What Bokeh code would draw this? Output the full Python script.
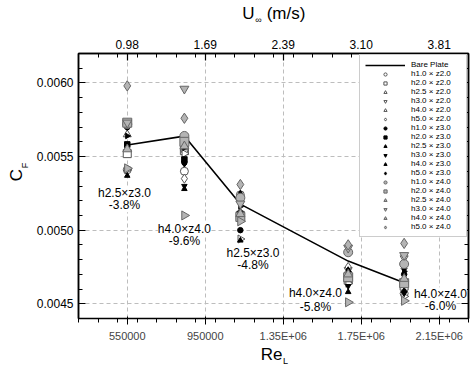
import math
from bokeh.plotting import figure
from bokeh.models import (LinearAxis, FixedTicker, Label, Legend, LegendItem,
                          NumeralTickFormatter, Range1d)
from bokeh.embed import file_html
from bokeh.resources import INLINE

# ---------------- data ----------------
re_l = [550000, 843000, 1130000, 1683000, 1970000]
re_ticks = [550000, 950000, 1350000, 1750000, 2150000]
re_tick_labels = ["550000", "950000", "1.35E+06", "1.75E+06", "2.15E+06"]
u_inf_labels = ["0.98", "1.69", "2.39", "3.10", "3.81"]
cf_ticks = [0.0045, 0.0050, 0.0055, 0.0060]

bare_plate = [0.005578, 0.005639, 0.005177, 0.004790, 0.004643]

h10_z20 = [0.00541, 0.00540, 0.00524, 0.00470, 0.00457]
h20_z20 = [0.00552, 0.00554, 0.00510, 0.00466, 0.00462]
h25_z20 = [0.00565, 0.00556, 0.00512, 0.00468, 0.00466]
h30_z20 = [0.00572, 0.00553, 0.00520, 0.00473, 0.00481]
h40_z20 = [0.00541, 0.00552, 0.00494, 0.00464, 0.00455]
h50_z20 = [0.00571, 0.00535, 0.00519, 0.00475, 0.00474]
h10_z30 = [0.00570, 0.00546, 0.00500, 0.00469, 0.00470]
h20_z30 = [0.00558, 0.00548, 0.00508, 0.00467, 0.00465]
h25_z30 = [0.00537, 0.00528, 0.00493, 0.00458, 0.00459]
h30_z30 = [0.00559, 0.00530, 0.00512, 0.00462, 0.00457]
h40_z30 = [0.00564, 0.00556, 0.00516, 0.00472, 0.00472]
h50_z30 = [0.00570, 0.00545, 0.00525, 0.00473, 0.00474]
h10_z40 = [0.00572, 0.00564, 0.00522, 0.00485, 0.00477]
h20_z40 = [0.00573, 0.00560, 0.00509, 0.00468, 0.00464]
h25_z40 = [0.00555, 0.00557, 0.00511, 0.00470, 0.00467]
h30_z40 = [0.00573, 0.00596, 0.00518, 0.00488, 0.00483]
h40_z40 = [0.00542, 0.00510, 0.00506, 0.00451, 0.00452]
h50_z40 = [0.00598, 0.00576, 0.00531, 0.00490, 0.00491]

# annotations: name, change, x (Re), y of line 1, y of line 2
ann_names = ["h2.5×z3.0", "h4.0×z4.0", "h2.5×z3.0", "h4.0×z4.0", "h4.0×z4.0"]
ann_pcts = ["-3.8%", "-9.6%", "-4.8%", "-5.8%", "-6.0%"]
ann_x = [536000, 843000, 1195000, 1515000, 2156000]
ann_y1 = [0.005253, 0.005009, 0.004842, 0.004570, 0.004565]
ann_y2 = [0.005169, 0.004927, 0.004763, 0.004480, 0.004487]

# ---------------- figure ----------------
X0, X1 = 300000, 2300000
Y0, Y1 = 0.0044, 0.0062
L, T, W, H = 78, 48, 390, 270
FONT = "Liberation Sans"

p = figure(width=474, height=377, x_range=Range1d(X0, X1), y_range=Range1d(Y0, Y1),
           output_backend="svg", toolbar_location=None,
           min_border_left=L, min_border_right=474 - L - W,
           min_border_top=T, min_border_bottom=377 - T - H,
           background_fill_color="white", border_fill_color="white")
p.outline_line_color = "black"
p.outline_line_width = 1.5

def px2x(px):
    return X0 + (px - L) / W * (X1 - X0)

def py2y(py):
    return Y1 - (py - T) / H * (Y1 - Y0)

x_minor = [v for v in range(300000, 2300001, 100000) if v not in re_ticks]
y_minor = [round(0.0044 + i * 0.0001, 5) for i in range(19)]
y_minor = [v for v in y_minor if all(abs(v - t) > 1e-9 for t in cf_ticks)]

xt = FixedTicker(ticks=re_ticks, minor_ticks=x_minor)
yt = FixedTicker(ticks=cf_ticks, minor_ticks=y_minor)

p.xaxis.ticker = xt
p.xaxis.major_label_overrides = {t: s for t, s in zip(re_ticks, re_tick_labels)}
p.yaxis.ticker = yt
p.yaxis.formatter = NumeralTickFormatter(format="0.0000")

top = LinearAxis(ticker=xt, major_label_overrides={t: s for t, s in zip(re_ticks, u_inf_labels)})
p.add_layout(top, "above")
right = LinearAxis(ticker=yt, major_label_overrides={t: "" for t in cf_ticks})
p.add_layout(right, "right")

for ax in [p.xaxis[0], p.yaxis[0], top, right]:
    ax.major_tick_in = 7
    ax.major_tick_out = 0
    ax.minor_tick_in = 4
    ax.minor_tick_out = 0
    ax.axis_line_color = "black"
    ax.axis_line_width = 1.5
    ax.major_tick_line_color = "black"
    ax.major_tick_line_width = 1.2
    ax.minor_tick_line_color = "black"
    ax.minor_tick_line_width = 1
    ax.major_label_text_font = FONT
    ax.major_label_text_font_size = "12px"
    ax.major_label_text_color = "black"
    ax.major_label_standoff = 5

p.xgrid.ticker = xt
p.ygrid.ticker = yt
for g in [p.xgrid[0], p.ygrid[0]]:
    g.grid_line_color = "#bdbdbd"
    g.grid_line_dash = "4 3"
    g.grid_line_width = 1

# ---------------- axis titles, carried as tick labels of bare extra axes ----------------
def text_axis(place, ticks, texts, size, standoff, vertical=False):
    ax = LinearAxis(ticker=FixedTicker(ticks=ticks, minor_ticks=[]),
                    major_label_overrides=dict(zip(ticks, texts)),
                    axis_line_color=None, major_tick_line_color=None,
                    minor_tick_line_color=None,
                    major_tick_in=0, major_tick_out=0, minor_tick_in=0, minor_tick_out=0,
                    major_label_text_font=FONT, major_label_text_font_size=size,
                    major_label_text_color="black", major_label_standoff=standoff)
    if vertical:
        ax.major_label_orientation = "vertical"
    p.add_layout(ax, place)

# top: U_inf (m/s)
text_axis("above", [px2x(258)], ["∞"], "9px", 12)
text_axis("above", [px2x(248), px2x(285.5)], ["U", "(m/s)"], "17px", -11)
# bottom: Re_L
text_axis("below", [px2x(271)], ["Re"], "17px", 0)
text_axis("below", [px2x(285)], ["L"], "9px", -11)
# left: C_F
text_axis("left", [py2y(162)], ["F"], "9px", 3, vertical=True)
text_axis("left", [py2y(172)], ["C"], "17px", -9, vertical=True)

# ---------------- glyphs ----------------
items = []
bp = p.line(re_l, bare_plate, line_color="black", line_width=1.6)
items.append(LegendItem(label="Bare Plate", renderers=[bp]))

shapes = [("circle", 0), ("square", 0), ("triangle", 0), ("inverted_triangle", 0),
          ("triangle", -math.pi / 2), ("diamond", 0)]
hs = ["1.0", "2.0", "2.5", "3.0", "4.0", "5.0"]
groups = [
    ("2.0", [h10_z20, h20_z20, h25_z20, h30_z20, h40_z20, h50_z20],
     dict(fill_color="white", line_color="#555555", line_width=1.0), 8),
    ("3.0", [h10_z30, h20_z30, h25_z30, h30_z30, h40_z30, h50_z30],
     dict(fill_color="black", line_color="black", line_width=1.0), 5.5),
    ("4.0", [h10_z40, h20_z40, h25_z40, h30_z40, h40_z40, h50_z40],
     dict(fill_color="#b4b4b4", line_color="#666666", line_width=1.0), 9),
]
for z, series, style, size in groups:
    for (marker, ang), h, vals in zip(shapes, hs, series):
        sz = size * (1.15 if marker == "diamond" else 1.0)
        r = p.scatter(re_l, vals, marker=marker, angle=ang, size=sz, **style)
        items.append(LegendItem(label=f"h{h} × z{z}", renderers=[r]))

legend = Legend(items=items, location="top_right", margin=1, padding=5, spacing=0,
                glyph_width=40, glyph_height=8, label_height=8, label_width=50,
                label_standoff=6, label_text_font=FONT, label_text_font_size="8px",
                label_text_color="black",
                border_line_color="#999999", border_line_width=1,
                background_fill_color="white", background_fill_alpha=1.0)
p.add_layout(legend)

# ---------------- annotations ----------------
for nm, pc, x, y1, y2 in zip(ann_names, ann_pcts, ann_x, ann_y1, ann_y2):
    for txt, yy in ((nm, y1), (pc, y2)):
        p.add_layout(Label(x=x, y=yy, text=txt, text_align="center", text_baseline="middle",
                           text_font=FONT, text_font_size="12px", text_color="black",
                           background_fill_color="white", background_fill_alpha=1.0))

open("out.html", "w").write(file_html(p, INLINE))
